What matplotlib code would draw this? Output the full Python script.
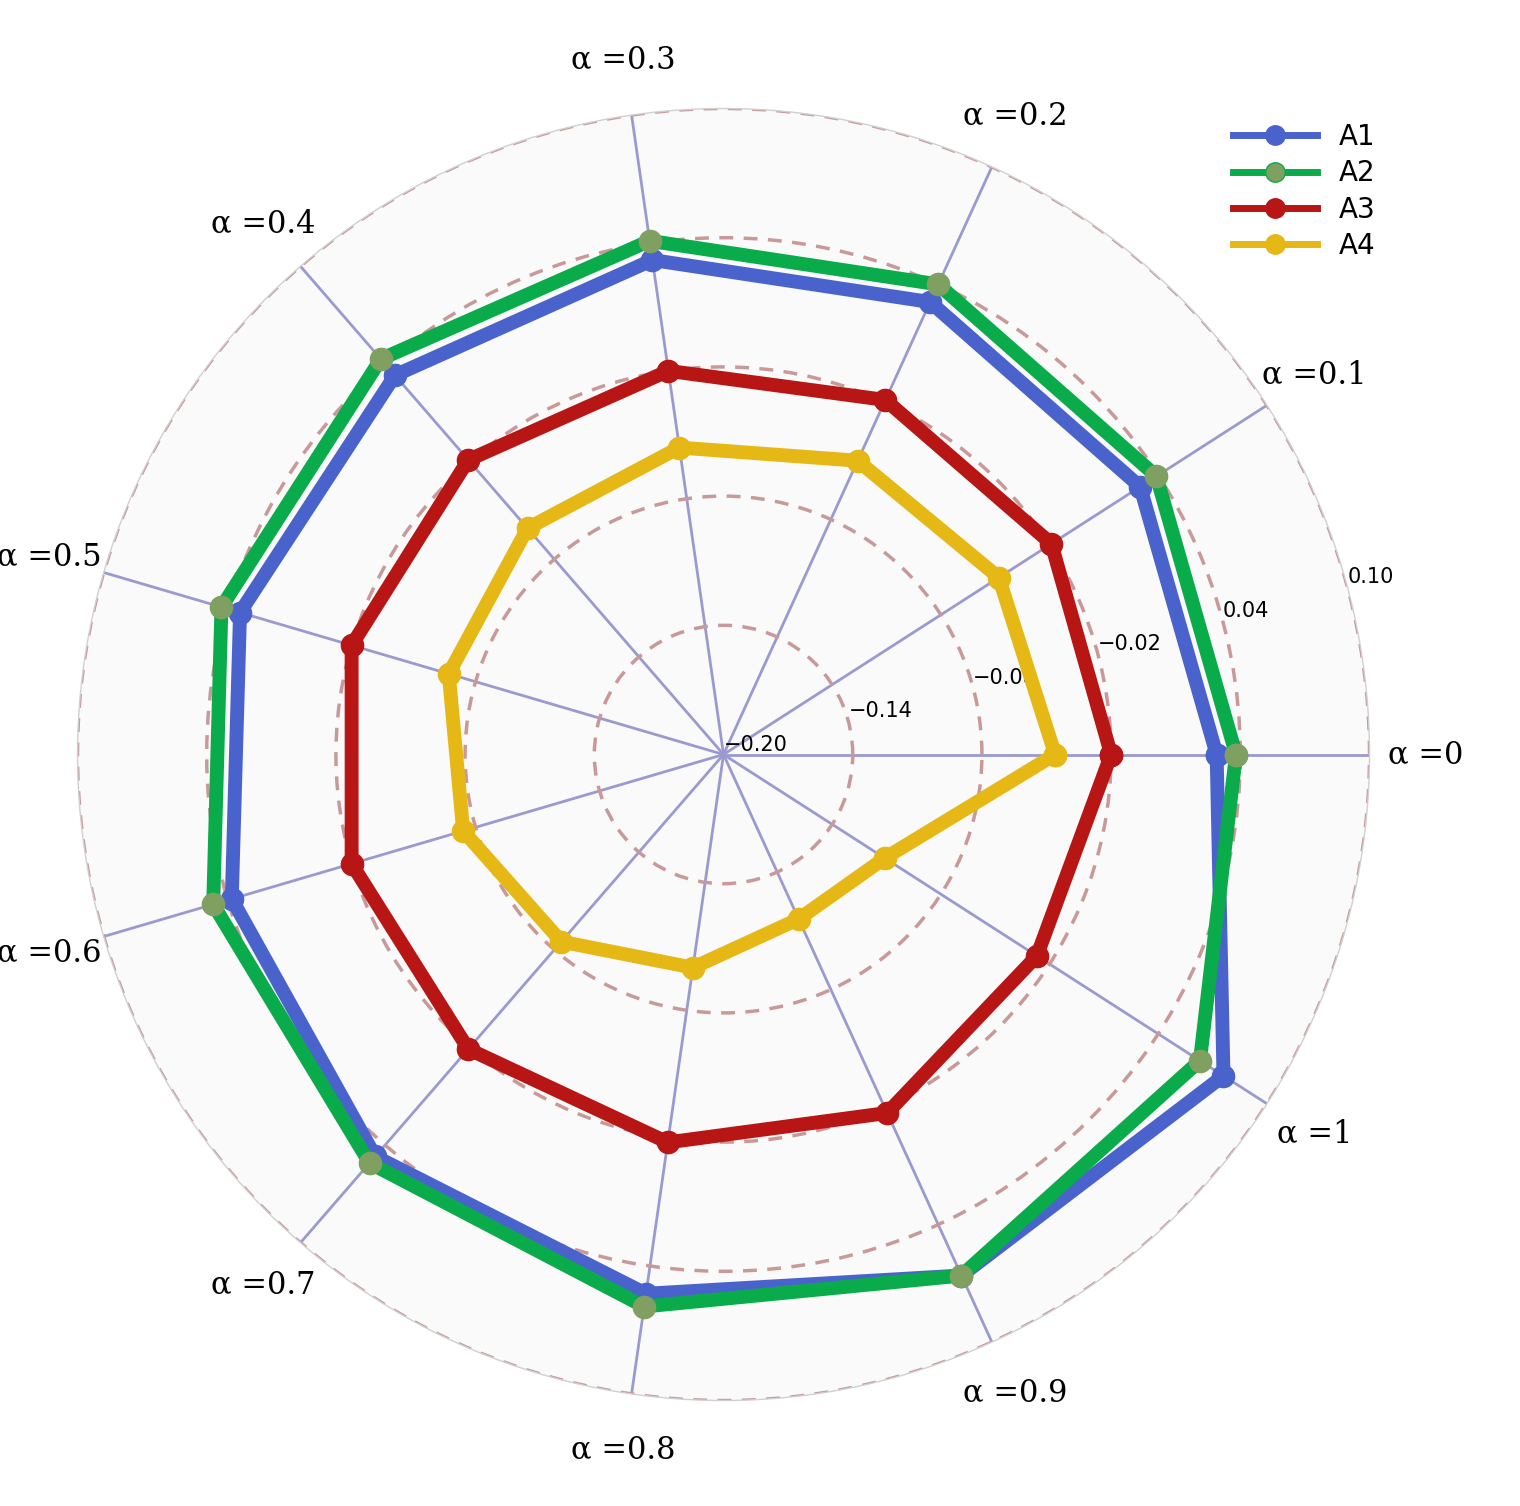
import numpy as np
import matplotlib
matplotlib.use('Agg')
import matplotlib.pyplot as plt
from matplotlib.lines import Line2D

categories = ['α =0', 'α =0.1', 'α =0.2', 'α =0.3', 'α =0.4', 'α =0.5',
              'α =0.6', 'α =0.7', 'α =0.8', 'α =0.9', 'α =1']
a1 = [0.029, 0.030, 0.031, 0.032, 0.033, 0.034, 0.038, 0.047, 0.053, 0.066, 0.076]
a2 = [0.038, 0.039, 0.040, 0.041, 0.043, 0.043, 0.047, 0.051, 0.059, 0.066, 0.063]
a3 = [-0.020, -0.019, -0.019, -0.020, -0.019, -0.020, -0.020, -0.019, -0.018, -0.017, -0.027]
a4 = [-0.046, -0.048, -0.050, -0.056, -0.061, -0.067, -0.074, -0.085, -0.100, -0.116, -0.111]
r_ticks = [-0.20, -0.14, -0.08, -0.02, 0.04, 0.10]

n = len(categories)
theta = np.arange(n) * 2 * np.pi / n

fig = plt.figure(figsize=(15.2, 15.06), dpi=100)
ax = fig.add_axes([0.051, 0.07, 0.85, 0.858], projection='polar')
ax.set_facecolor('#fafafa')
ax.set_ylim(-0.20, 0.10)
ax.set_rticks(r_ticks)
ax.set_yticklabels(['%.2f' % t if t >= 0 else '−%.2f' % -t for t in r_ticks], fontsize=15)
ax.set_rlabel_position(15)
ax.set_xticks(theta)
ax.set_xticklabels(categories, fontsize=22, family='DejaVu Serif')
ax.tick_params(axis='x', pad=30)
ax.xaxis.grid(True, color='#9a9ad0', lw=2)
ax.yaxis.grid(True, color='#c99999', lw=2.5, ls=(0, (4, 3)))
ax.spines['polar'].set_color('#d0d0d0')
ax.spines['polar'].set_linewidth(1)

def closed(v):
    return np.append(theta, theta[0]), np.append(v, v[0])

series = [(a4, '#e6b815', '#e6b815'), (a3, '#b81515', '#b81515'),
          (a1, '#4a63cc', '#4a63cc'), (a2, '#0aab4a', '#7fa060')]
for vals, c, mc in series:
    t, v = closed(vals)
    ax.plot(t, v, color=c, lw=10, marker='o', ms=16, mfc=mc, mec=mc, zorder=3)

handles = [Line2D([], [], color='#4a63cc', lw=5, marker='o', ms=14),
           Line2D([], [], color='#0aab4a', lw=5, marker='o', ms=14, mfc='#7fa060', mec='#0aab4a'),
           Line2D([], [], color='#b81515', lw=5, marker='o', ms=14),
           Line2D([], [], color='#e6b815', lw=5, marker='o', ms=14)]
fig.legend(handles, ['A1', 'A2', 'A3', 'A4'], loc='upper left',
           bbox_to_anchor=(0.795, 0.935), frameon=False, fontsize=20,
           handlelength=3, labelspacing=0.3)

fig.savefig('out.png', dpi=100, facecolor='white')
